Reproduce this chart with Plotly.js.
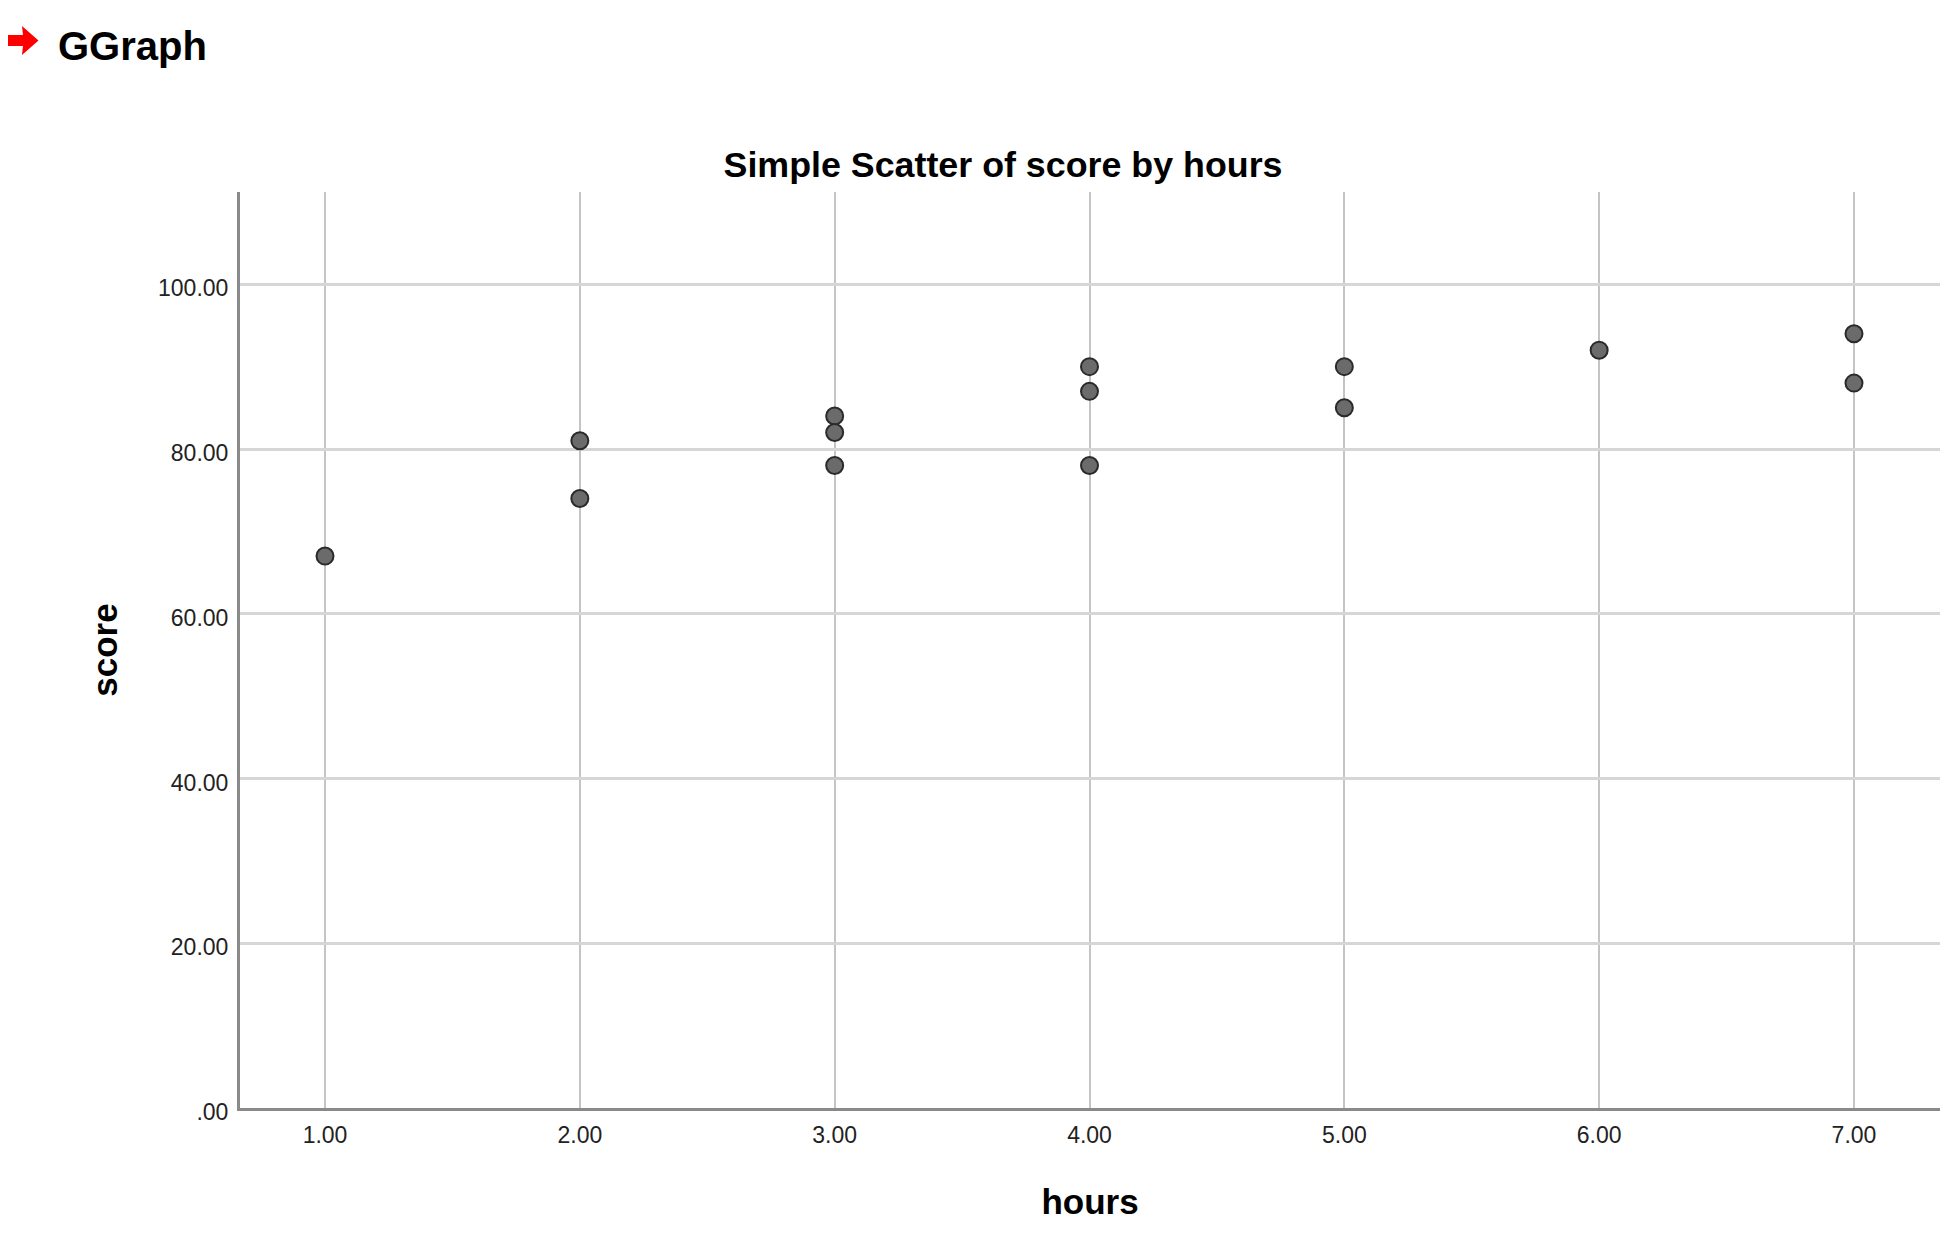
<!DOCTYPE html>
<html>
<head>
<meta charset="utf-8">
<script src="https://cdn.plot.ly/plotly-3.0.1.min.js"></script>
<style>
  html, body { margin: 0; padding: 0; background: #ffffff; }
  #chart { width: 1946px; height: 1235px; }
</style>
</head>
<body>
<div id="chart"></div>
<script>
// Data
var hours = [1, 2, 2, 3, 3, 3, 4, 4, 4, 5, 5, 6, 7, 7];
var score = [67, 81, 74, 84, 82, 78, 90, 87, 78, 90, 85, 92, 94, 88];

var xTickVals = [1, 2, 3, 4, 5, 6, 7];
var xTickText = ['1.00', '2.00', '3.00', '4.00', '5.00', '6.00', '7.00'];
var yTickVals = [0, 20, 40, 60, 80, 100];
var yTickText = ['.00', '20.00', '40.00', '60.00', '80.00', '100.00'];

var W = 1946, H = 1235;
var M = { l: 240, r: 6, t: 192, b: 127 };
var PW = W - M.l - M.r, PH = H - M.t - M.b;
function px(x) { return (x - M.l) / PW; }
function py(y) { return (H - M.b - y) / PH; }

var FONT = 'Liberation Sans, Arial, sans-serif';

var arrowPts = [[8, 35], [23, 35], [22, 26], [38.5, 40.5], [22, 55], [23, 46], [8, 46]];
var arrowPath = arrowPts.map(function (p, i) {
  return (i === 0 ? 'M' : 'L') + px(p[0]).toFixed(5) + ',' + py(p[1]).toFixed(5);
}).join(' ') + ' Z';

var trace = {
  type: 'scatter',
  mode: 'markers',
  x: hours,
  y: score,
  marker: {
    size: 17,
    color: '#6b6b6b',
    line: { color: '#2a2a2a', width: 2 }
  },
  hoverinfo: 'x+y',
  showlegend: false
};

var layout = {
  width: W,
  height: H,
  margin: M,
  paper_bgcolor: '#ffffff',
  plot_bgcolor: '#ffffff',
  font: { family: FONT, color: '#000000' },
  title: {
    text: '<b>Simple Scatter of score by hours</b>',
    font: { family: FONT, size: 35.8, color: '#000000' },
    xref: 'container', yref: 'container',
    x: 1003 / W, xanchor: 'center',
    y: 1 - 164 / H, yanchor: 'middle'
  },
  xaxis: {
    range: [0.6664, 7.3375],
    tickmode: 'array',
    tickvals: xTickVals,
    ticktext: xTickText,
    ticks: '',
    tickfont: { family: FONT, size: 23, color: '#222222' },
    ticklabelstandoff: 4,
    showgrid: true,
    gridcolor: '#c4c4c4',
    gridwidth: 2,
    zeroline: false,
    showline: true,
    linecolor: '#8a8a8a',
    linewidth: 3,
    title: {
      text: '<b>hours</b>',
      font: { family: FONT, size: 35, color: '#000000' },
      standoff: 43
    },
    fixedrange: true
  },
  yaxis: {
    range: [0, 111.2],
    tickmode: 'array',
    tickvals: yTickVals,
    ticktext: yTickText,
    ticks: '',
    tickfont: { family: FONT, size: 23, color: '#222222' },
    ticklabelstandoff: 4,
    ticklabelshift: 4,
    showgrid: true,
    gridcolor: '#d6d6d6',
    gridwidth: 3,
    zeroline: false,
    showline: true,
    linecolor: '#8a8a8a',
    linewidth: 3,
    title: {
      text: '<b>score</b>',
      font: { family: FONT, size: 35, color: '#000000' },
      standoff: 30
    },
    fixedrange: true
  },
  shapes: [
    {
      type: 'path',
      xref: 'paper', yref: 'paper',
      path: arrowPath,
      fillcolor: '#ff0000',
      line: { width: 0 }
    }
  ],
  annotations: [
    {
      text: '<b>GGraph</b>',
      xref: 'paper', yref: 'paper',
      x: px(56), xanchor: 'left',
      y: py(46), yanchor: 'middle',
      showarrow: false,
      font: { family: FONT, size: 40, color: '#000000' }
    }
  ]
};

Plotly.newPlot('chart', [trace], layout, { displayModeBar: false, staticPlot: false });
</script>
</body>
</html>
